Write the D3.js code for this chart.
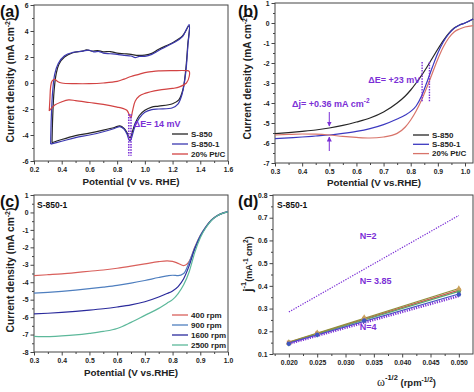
<!DOCTYPE html>
<html>
<head>
<meta charset="utf-8">
<style>
body { margin: 0; background: #fff; }
svg { font-family: "Liberation Sans", Arial, sans-serif; font-weight: bold; }
.tick text { font-size: 6.8px; fill: #222; font-weight: bold; }
.tick line { stroke: #444; }
</style>
<script src="https://d3js.org/d3.v7.min.js"></script>
</head>
<body>
<svg id="fig" width="474" height="392"></svg>
<script>

// ---------- data ----------

// (a) CV loops, [E (V vs RHE), j (mA cm-2)]
var cvS850 = [[0.33,-4.6],[0.335,-2.6],[0.345,-0.6],[0.36,0.7],[0.38,1.45],[0.42,2.0],[0.48,2.33],[0.55,2.45],[0.58,2.55],[0.62,2.45],[0.66,2.5],[0.7,2.4],[0.75,2.42],[0.8,2.3],[0.85,2.25],[0.9,2.2],[0.95,2.12],[1.0,2.15],[1.05,2.28],[1.1,2.6],[1.2,3.1],[1.27,3.6],[1.32,4.4],[1.31,3.0],[1.295,1.0],[1.275,-0.5],[1.245,-1.3],[1.2,-1.6],[1.1,-1.78],[1.05,-1.85],[1.0,-2.1],[0.96,-2.5],[0.93,-3.1],[0.91,-3.75],[0.895,-4.2],[0.885,-4.15],[0.87,-3.8],[0.85,-3.5],[0.82,-3.3],[0.78,-3.42],[0.7,-3.62],[0.6,-3.85],[0.5,-4.05],[0.4,-4.35],[0.33,-4.6]];
var cvS8501 = [[0.32,-4.7],[0.325,-2.6],[0.335,-0.6],[0.35,0.7],[0.375,1.5],[0.42,2.1],[0.48,2.35],[0.55,2.45],[0.6,2.52],[0.63,2.4],[0.67,2.42],[0.7,2.3],[0.75,2.25],[0.8,2.2],[0.85,2.12],[0.9,2.08],[0.93,1.95],[0.96,2.05],[1.0,2.05],[1.05,2.2],[1.1,2.5],[1.2,3.05],[1.27,3.55],[1.32,4.5],[1.31,2.8],[1.295,0.8],[1.27,-0.8],[1.24,-1.6],[1.2,-1.9],[1.1,-2.0],[1.05,-2.05],[1.0,-2.25],[0.96,-2.7],[0.93,-3.3],[0.91,-4.0],[0.895,-4.45],[0.885,-4.35],[0.87,-3.9],[0.85,-3.55],[0.82,-3.35],[0.78,-3.5],[0.7,-3.75],[0.6,-4.0],[0.5,-4.2],[0.4,-4.48],[0.32,-4.7]];
var cvPtC = [[0.31,-2.15],[0.315,-1.2],[0.32,-0.3],[0.33,0.15],[0.35,0.28],[0.37,0.12],[0.4,0.0],[0.5,-0.05],[0.6,-0.05],[0.7,0.0],[0.8,0.12],[0.85,0.3],[0.9,0.5],[0.95,0.65],[1.0,0.8],[1.05,0.88],[1.1,0.93],[1.2,0.95],[1.3,0.95],[1.32,0.9],[1.32,0.5],[1.3,0.0],[1.25,-0.3],[1.2,-0.42],[1.1,-0.55],[1.0,-0.8],[0.96,-1.0],[0.93,-1.4],[0.91,-2.2],[0.9,-2.68],[0.89,-2.5],[0.87,-2.1],[0.84,-1.95],[0.8,-1.85],[0.7,-1.65],[0.6,-1.5],[0.5,-1.35],[0.45,-1.3],[0.4,-1.45],[0.35,-1.7],[0.31,-2.15]];
var cvLabels = ["S-850", "S-850-1", "20% Pt/C"];

// (b) LSV curves
var lsvPotential = [0.30,0.35,0.40,0.45,0.50,0.55,0.60,0.65,0.70,0.75,0.78,0.80,0.82,0.84,0.86,0.88,0.90,0.92,0.94,0.96,0.98,1.00,1.03];
var lsvS850  = [-5.53,-5.48,-5.42,-5.35,-5.25,-5.12,-4.95,-4.75,-4.45,-4.0,-3.65,-3.35,-3.0,-2.62,-2.2,-1.75,-1.3,-0.88,-0.52,-0.25,-0.1,0.0,0.2];
var lsvS8501 = [-5.78,-5.74,-5.7,-5.65,-5.6,-5.52,-5.42,-5.28,-5.08,-4.8,-4.6,-4.42,-4.15,-3.65,-2.95,-2.2,-1.5,-0.95,-0.55,-0.27,-0.1,0.0,0.2];
var lsvPtC   = [-5.6,-5.57,-5.55,-5.56,-5.6,-5.67,-5.72,-5.75,-5.7,-5.52,-5.2,-4.85,-4.4,-3.85,-3.2,-2.5,-1.8,-1.2,-0.75,-0.45,-0.3,-0.2,-0.13];
var lsvLabels = ["S-850", "S-850-1", "20% Pt/C"];

// (c) S-850-1 at different rotation speeds
var rpmPotential = [0.30,0.35,0.40,0.45,0.50,0.55,0.60,0.65,0.70,0.75,0.78,0.80,0.82,0.84,0.86,0.88,0.90,0.92,0.94,0.96,0.98,1.00];
var rpm400  = [-3.62,-3.57,-3.52,-3.45,-3.37,-3.3,-3.2,-3.08,-2.95,-2.82,-2.78,-2.8,-2.92,-3.05,-2.8,-2.0,-1.32,-0.82,-0.43,-0.19,-0.04,0.03];
var rpm900  = [-4.63,-4.58,-4.52,-4.45,-4.37,-4.28,-4.18,-4.05,-3.9,-3.73,-3.64,-3.6,-3.62,-3.5,-2.85,-2.02,-1.33,-0.83,-0.44,-0.19,-0.04,0.03];
var rpm1600 = [-5.82,-5.78,-5.73,-5.67,-5.6,-5.52,-5.42,-5.3,-5.12,-4.85,-4.65,-4.5,-4.25,-3.8,-3.05,-2.1,-1.38,-0.85,-0.45,-0.2,-0.05,0.03];
var rpm2500 = [-7.1,-7.12,-7.08,-7.02,-6.93,-6.82,-6.65,-6.3,-5.9,-5.5,-5.2,-5.0,-4.65,-4.15,-3.4,-2.3,-1.45,-0.88,-0.46,-0.2,-0.05,0.03];
var rpmLabels = ["400 rpm", "900 rpm", "1600 rpm", "2500 rpm"];

// (d) Koutecky-Levich: omega^-1/2 vs j^-1
var klOmega = [0.020, 0.025, 0.0333, 0.050];
var klRed   = [0.150, 0.190, 0.255, 0.380];
var klOlive = [0.150, 0.192, 0.260, 0.387];
var klGreen = [0.148, 0.188, 0.252, 0.375];
var klBlue  = [0.145, 0.185, 0.248, 0.362];
var klEnds  = [0.020, 0.050];
var klN2    = [0.285, 0.71];
var klN4    = [0.145, 0.355];

// tick labels
var aXTicks = [0.2,0.4,0.6,0.8,1.0,1.2,1.4,1.6];
var aYTicks = [-6,-4,-2,0,2,4,6];
var bXTicks = [0.3,0.4,0.5,0.6,0.7,0.8,0.9,1.0];
var bYTicks = [-7,-6,-5,-4,-3,-2,-1,0,1];
var cXTicks = [0.3,0.4,0.5,0.6,0.7,0.8,0.9,1.0];
var cYTicks = [-8,-7,-6,-5,-4,-3,-2,-1,0,1];
var dXTicks = [0.020,0.025,0.030,0.035,0.040,0.045,0.050];
var dYTicks = [0.1,0.2,0.3,0.4,0.5,0.6,0.7,0.8];

var purple = "#7b2fd6";

// ---------- drawing ----------

var svg = d3.select("#fig");

var defs = svg.append("defs");
defs.append("marker")
    .attr("id", "arrow")
    .attr("viewBox", "0 0 10 10")
    .attr("refX", 9).attr("refY", 5)
    .attr("markerWidth", 5).attr("markerHeight", 5)
    .attr("orient", "auto")
    .append("path")
    .attr("d", "M0,0L10,5L0,10z")
    .attr("fill", purple);

function fmt(spec) {
    var f = d3.format(spec);
    return function(d) { return f(d).replace("\u2212", "-"); };
}

function minorOf(ticks, dom) {
    var step = ticks[1] - ticks[0];
    var lo = Math.min(dom[0], dom[1]), hi = Math.max(dom[0], dom[1]);
    return [ticks[0] - step / 2].concat(ticks.map(function(v) { return v + step / 2; }))
        .filter(function(v) { return v > lo + 1e-9 && v < hi - 1e-9; });
}

function makePanel(box, xDom, yDom) {
    var x = d3.scaleLinear().domain(xDom).range([box.left, box.right]);
    var y = d3.scaleLinear().domain(yDom).range([box.bottom, box.top]);
    var g = svg.append("g");
    return { x: x, y: y, g: g, box: box };
}

function drawAxes(p, xt, yt, xf, yf) {
    var b = p.box;
    var ax = p.g.append("g").attr("class", "axes");
    ax.append("g").attr("transform", "translate(0," + b.bottom + ")")
        .call(d3.axisBottom(p.x).tickValues(minorOf(xt, p.x.domain())).tickSize(2).tickFormat(""));
    ax.append("g").attr("transform", "translate(0," + b.bottom + ")")
        .call(d3.axisBottom(p.x).tickValues(xt).tickSize(3.5).tickPadding(2.5).tickFormat(fmt(xf)));
    ax.append("g").attr("transform", "translate(" + b.left + ",0)")
        .call(d3.axisLeft(p.y).tickValues(minorOf(yt, p.y.domain())).tickSize(2).tickFormat(""));
    ax.append("g").attr("transform", "translate(" + b.left + ",0)")
        .call(d3.axisLeft(p.y).tickValues(yt).tickSize(3.5).tickPadding(2).tickFormat(fmt(yf)));
    ax.selectAll(".domain").remove();
    p.g.append("rect")
        .attr("x", b.left).attr("y", b.top)
        .attr("width", b.right - b.left).attr("height", b.bottom - b.top)
        .attr("fill", "none").attr("stroke", "#444").attr("stroke-width", 1);
}

function curRhoLabel(x, y) {
    var t = svg.append("text")
        .attr("transform", "translate(" + x + "," + y + ") rotate(-90)")
        .attr("text-anchor", "middle")
        .attr("font-size", 10.2).attr("fill", "#222");
    t.append("tspan").text("Current density (mA cm");
    t.append("tspan").attr("font-size", 7).attr("dy", -4).text("-2");
    t.append("tspan").attr("dy", 4).text(")");
}

function xLabel(x, y, s) {
    svg.append("text").attr("x", x).attr("y", y)
        .attr("text-anchor", "middle").attr("font-size", 9.8).attr("fill", "#222")
        .text(s);
}

function panelTag(x, y, s) {
    svg.append("text").attr("x", x).attr("y", y)
        .attr("font-size", 16).attr("fill", "#111").text(s);
}

function legend(items, x0, y0, dy) {
    items.forEach(function(it, i) {
        var yy = y0 + i * dy;
        svg.append("line").attr("x1", x0).attr("x2", x0 + 16).attr("y1", yy).attr("y2", yy)
            .attr("stroke", it.color).attr("stroke-width", 1.3);
        svg.append("text").attr("x", x0 + 19).attr("y", yy).attr("dy", "0.35em")
            .attr("font-size", 8).attr("fill", "#222").text(it.label);
    });
}

// ---- (a) ----
var pa = makePanel({ left: 34, right: 228, top: 5, bottom: 161 }, [0.2, 1.6], [-6, 6]);
drawAxes(pa, aXTicks, aYTicks, ".1f", "d");
var cvLine = d3.line()
    .x(function(d) { return pa.x(d[0]); })
    .y(function(d) { return pa.y(d[1]); })
    .curve(d3.curveCatmullRom.alpha(0.5));
var aColors = ["#262626", "#3b38b0", "#d24343"];
[cvS850, cvS8501, cvPtC].forEach(function(s, i) {
    pa.g.append("path").attr("d", cvLine(s)).attr("fill", "none")
        .attr("stroke", aColors[i]).attr("stroke-width", 1.2);
});
[0.884, 0.9].forEach(function(e) {
    pa.g.append("line").attr("x1", pa.x(e)).attr("x2", pa.x(e))
        .attr("y1", pa.y(-2.4)).attr("y2", pa.y(-5.6))
        .attr("stroke", purple).attr("stroke-width", 1.6).attr("stroke-dasharray", "1.5,1.2");
});
pa.g.append("text").attr("x", pa.x(0.92)).attr("y", pa.y(-3.4))
    .attr("font-size", 9).attr("fill", purple).text("\u0394E= 14 mV");
legend(cvLabels.map(function(l, i) { return { label: l, color: aColors[i] }; }), 172, 134, 10);
curRhoLabel(14, 80);
xLabel(131, 185, "Potential (V vs. RHE)");
panelTag(0, 17, "(a)");

// ---- (b) ----
var pb = makePanel({ left: 275, right: 473, top: 3, bottom: 163 }, [0.3, 1.0 + 8 * 0.7 / 190], [-7, 1]);
drawAxes(pb, bXTicks, bYTicks, ".1f", "d");
var bColors = ["#262626", "#3b38c0", "#d8746a"];
[lsvS850, lsvS8501, lsvPtC].forEach(function(s, i) {
    var line = d3.line()
        .x(function(d, k) { return pb.x(lsvPotential[k]); })
        .y(function(d) { return pb.y(d); })
        .curve(d3.curveMonotoneX);
    pb.g.append("path").attr("d", line(s)).attr("fill", "none")
        .attr("stroke", bColors[i]).attr("stroke-width", 1.2);
});
[0.842, 0.869].forEach(function(e) {
    pb.g.append("line").attr("x1", pb.x(e)).attr("x2", pb.x(e))
        .attr("y1", pb.y(-1.95)).attr("y2", pb.y(-3.95))
        .attr("stroke", purple).attr("stroke-width", 1.4).attr("stroke-dasharray", "1.5,1.2");
});
pb.g.append("text").attr("x", pb.x(0.835)).attr("y", pb.y(-3.0))
    .attr("text-anchor", "end").attr("font-size", 9).attr("fill", purple).text("\u0394E= +23 mV");
var dj = pb.g.append("text").attr("x", pb.x(0.363)).attr("y", pb.y(-4.2))
    .attr("font-size", 9).attr("fill", purple);
dj.append("tspan").text("\u0394j= +0.36 mA cm");
dj.append("tspan").attr("font-size", 6.5).attr("dy", -4).text("-2");
pb.g.append("line").attr("x1", pb.x(0.5)).attr("x2", pb.x(0.5))
    .attr("y1", pb.y(-4.45)).attr("y2", pb.y(-5.15))
    .attr("stroke", purple).attr("stroke-width", 1).attr("marker-end", "url(#arrow)");
pb.g.append("line").attr("x1", pb.x(0.5)).attr("x2", pb.x(0.5))
    .attr("y1", pb.y(-6.4)).attr("y2", pb.y(-5.7))
    .attr("stroke", purple).attr("stroke-width", 1).attr("marker-end", "url(#arrow)");
legend(lsvLabels.map(function(l, i) { return { label: l, color: bColors[i] }; }), 413, 135, 9.3);
curRhoLabel(251, 77);
xLabel(374, 186, "Potential (V vs.RHE)");
panelTag(238, 17, "(b)");

// ---- (c) ----
var pc = makePanel({ left: 34, right: 228, top: 195, bottom: 352 }, [0.3, 1.0], [-8, 1]);
drawAxes(pc, cXTicks, cYTicks, ".1f", "d");
var cColors = ["#d9605c", "#4f7fbf", "#2b2b9c", "#5cb89a"];
[rpm400, rpm900, rpm1600, rpm2500].forEach(function(s, i) {
    var line = d3.line()
        .x(function(d, k) { return pc.x(rpmPotential[k]); })
        .y(function(d) { return pc.y(d); })
        .curve(d3.curveMonotoneX);
    pc.g.append("path").attr("d", line(s)).attr("fill", "none")
        .attr("stroke", cColors[i]).attr("stroke-width", 1.2);
});
pc.g.append("text").attr("x", 37).attr("y", 208).attr("font-size", 8.5).attr("fill", "#111").text("S-850-1");
legend(rpmLabels.map(function(l, i) { return { label: l, color: cColors[i] }; }), 172, 315, 10);
curRhoLabel(14, 270);
xLabel(131, 376, "Potential (V vs.RHE)");
panelTag(0, 207, "(c)");

// ---- (d) ----
var pd = makePanel({ left: 273, right: 473, top: 195, bottom: 354 }, [0.0172, 0.0525], [0.1, 0.8]);
drawAxes(pd, dXTicks, dYTicks, ".3f", ".1f");

pd.g.append("line")
    .attr("x1", pd.x(klEnds[0])).attr("y1", pd.y(klN2[0]))
    .attr("x2", pd.x(klEnds[1])).attr("y2", pd.y(klN2[1]))
    .attr("stroke", purple).attr("stroke-width", 1.2).attr("stroke-dasharray", "1.3,1.3");

function fit(xs, ys) {
    var mx = d3.mean(xs), my = d3.mean(ys);
    var sxy = d3.sum(xs, function(v, i) { return (v - mx) * (ys[i] - my); });
    var sxx = d3.sum(xs, function(v) { return (v - mx) * (v - mx); });
    var k = sxy / sxx;
    return function(v) { return my + k * (v - mx); };
}

var dSeries = [
    { v: klRed, color: "#d9534f", shape: d3.symbolSquare },
    { v: klGreen, color: "#5aa469", shape: d3.symbolDiamond },
    { v: klOlive, color: "#8f8f3c", mark: "#c9a35a", shape: d3.symbolTriangle },
    { v: klBlue, color: "#3f55c0", shape: d3.symbolCircle }
];
dSeries.forEach(function(s) {
    var f = fit(klOmega, s.v);
    pd.g.append("line")
        .attr("x1", pd.x(klEnds[0])).attr("y1", pd.y(f(klEnds[0])))
        .attr("x2", pd.x(klEnds[1])).attr("y2", pd.y(f(klEnds[1])))
        .attr("stroke", s.color).attr("stroke-width", 1.2);
});
pd.g.append("line")
    .attr("x1", pd.x(klEnds[0])).attr("y1", pd.y(klN4[0]))
    .attr("x2", pd.x(klEnds[1])).attr("y2", pd.y(klN4[1]))
    .attr("stroke", purple).attr("stroke-width", 2.4).attr("stroke-dasharray", "1.2,1.2");
dSeries.forEach(function(s) {
    pd.g.selectAll(null).data(s.v).enter().append("path")
        .attr("transform", function(d, i) { return "translate(" + pd.x(klOmega[i]) + "," + pd.y(d) + ")"; })
        .attr("d", d3.symbol().type(s.shape).size(16))
        .attr("fill", s.mark || s.color);
});

pd.g.append("text").attr("x", pd.x(0.0325)).attr("y", pd.y(0.605)).attr("font-size", 9).attr("fill", purple).text("N=2");
pd.g.append("text").attr("x", pd.x(0.0325)).attr("y", pd.y(0.408)).attr("font-size", 9).attr("fill", purple).text("N= 3.85");
pd.g.append("text").attr("x", pd.x(0.0325)).attr("y", pd.y(0.205)).attr("font-size", 9).attr("fill", purple).text("N=4");
pd.g.append("text").attr("x", 277).attr("y", 208).attr("font-size", 8.5).attr("fill", "#111").text("S-850-1");

var yl = svg.append("text")
    .attr("transform", "translate(252,292) rotate(-90)")
    .attr("fill", "#222");
yl.append("tspan").attr("font-size", 13).text("j");
yl.append("tspan").attr("font-size", 7.5).attr("dy", -6).text("-1");
yl.append("tspan").attr("font-size", 9).attr("dy", 6).text("(mA");
yl.append("tspan").attr("font-size", 6.5).attr("dy", -4).text("-1");
yl.append("tspan").attr("font-size", 9).attr("dy", 4).text(" cm");
yl.append("tspan").attr("font-size", 6.5).attr("dy", -4).text("2");
yl.append("tspan").attr("font-size", 9).attr("dy", 4).text(")");

var xl = svg.append("text").attr("x", 377).attr("y", 386).attr("fill", "#222");
xl.append("tspan").attr("font-size", 12).attr("font-family", "Liberation Serif, serif").attr("font-weight", "normal").text("\u03c9");
xl.append("tspan").attr("font-size", 7.5).attr("dy", -6).text("-1/2");
xl.append("tspan").attr("font-size", 9.5).attr("dy", 6).text(" (rpm");
xl.append("tspan").attr("font-size", 6.5).attr("dy", -4).text("-1/2");
xl.append("tspan").attr("font-size", 9.5).attr("dy", 4).text(")");
panelTag(238, 207, "(d)");

</script>
</body>
</html>
